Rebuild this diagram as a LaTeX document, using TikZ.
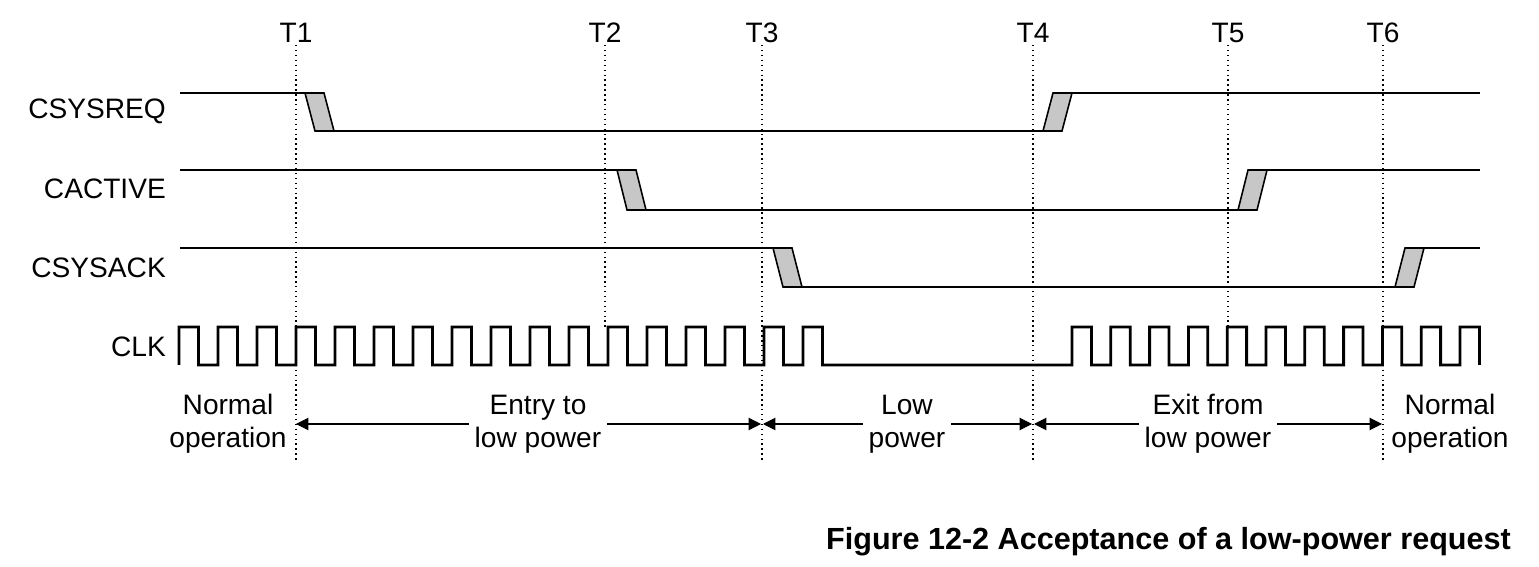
\documentclass[tikz,border=0pt]{standalone}
\usepackage{fontspec}
\setmainfont{Liberation Sans}
\usetikzlibrary{arrows.meta}
\begin{document}
\begin{tikzpicture}[x=0.02cm,y=-0.02cm,
  sig/.style={line width=1.2pt},
  edge/.style={line width=0.9pt,fill=black!22},
  tline/.style={dotted,line width=0.8pt},
  lbl/.style={font=\fontsize{16}{19}\selectfont},
  dim/.style={line width=0.6pt,-{Triangle[length=7pt,width=7pt]}}]
\useasboundingbox (0,0) rectangle (1539,567);
% time markers
\foreach \n/\x/\e in {1/296/460,2/605/327,3/762/460,4/1033/460,5/1228/327,6/1383/460}{
  \node[lbl] (T\n) at (\x,33) {T\n};
  \draw[tline] (\x,45) -- (\x,\e);
}
% signal labels
\node[lbl,anchor=east] (l1) at (172,111) {CSYSREQ};
\node[lbl,anchor=east] (l2) at (172,189) {CACTIVE};
\node[lbl,anchor=east] (l3) at (172,268) {CSYSACK};
\node[lbl,anchor=east] (l4) at (172,347) {CLK};
% CSYSREQ
\draw[sig] (180,93) -- (305,93);
\draw[edge] (305,93) -- (324,93) -- (334,131) -- (315,131) -- cycle;
\draw[sig] (315,131) -- (1043,131);
\draw[edge] (1043,131) -- (1062,131) -- (1072,93) -- (1053,93) -- cycle;
\draw[sig] (1053,93) -- (1480,93);
% CACTIVE
\draw[sig] (180,170) -- (617,170);
\draw[edge] (617,170) -- (636,170) -- (646,210) -- (627,210) -- cycle;
\draw[sig] (627,210) -- (1238,210);
\draw[edge] (1238,210) -- (1257,210) -- (1267,170) -- (1248,170) -- cycle;
\draw[sig] (1248,170) -- (1480,170);
% CSYSACK
\draw[sig] (180,248) -- (773,248);
\draw[edge] (773,248) -- (792,248) -- (802,287) -- (783,287) -- cycle;
\draw[sig] (783,287) -- (1395,287);
\draw[edge] (1395,287) -- (1414,287) -- (1424,248) -- (1405,248) -- cycle;
\draw[sig] (1405,248) -- (1480,248);
% CLK
\draw[line width=1.6pt] (179,365)
  \foreach \k in {0,...,16}{ -- ({179+39*\k},327) -- ({198.5+39*\k},327) -- ({198.5+39*\k},365) -- ({218+39*\k},365) }
  -- (1072,365)
  \foreach \k in {0,...,9}{ -- ({1072+38.8*\k},327) -- ({1091.4+38.8*\k},327) -- ({1091.4+38.8*\k},365) -- ({1110.8+38.8*\k},365) }
  -- (1460,327) -- (1479.4,327) -- (1479.4,365);
% region labels
\node[lbl,align=center] (n1) at (228,424) {Normal\\operation};
\node[lbl,align=center] (e1) at (538,424) {Entry to\\low power};
\node[lbl,align=center] (lp) at (907,424) {Low\\power};
\node[lbl,align=center] (ex) at (1208,424) {Exit from\\low power};
\node[lbl,align=center] (n2) at (1450,424) {Normal\\operation};
\coordinate (a1) at (296,424); \coordinate (a3) at (761,424);
\coordinate (b3) at (763,424); \coordinate (b4) at (1032,424);
\coordinate (c4) at (1034,424); \coordinate (c6) at (1382,424);
\draw[dim] (e1.west) -- (a1);
\draw[dim] (e1.east) -- (a3);
\draw[dim] (lp.west) -- (b3);
\draw[dim] (lp.east) -- (b4);
\draw[dim] (ex.west) -- (c4);
\draw[dim] (ex.east) -- (c6);
% caption
\node[anchor=east,font=\fontsize{17.4}{21}\selectfont\bfseries] (cap) at (1517,542) {Figure 12-2 Acceptance of a low-power request};
\end{tikzpicture}
\end{document}
